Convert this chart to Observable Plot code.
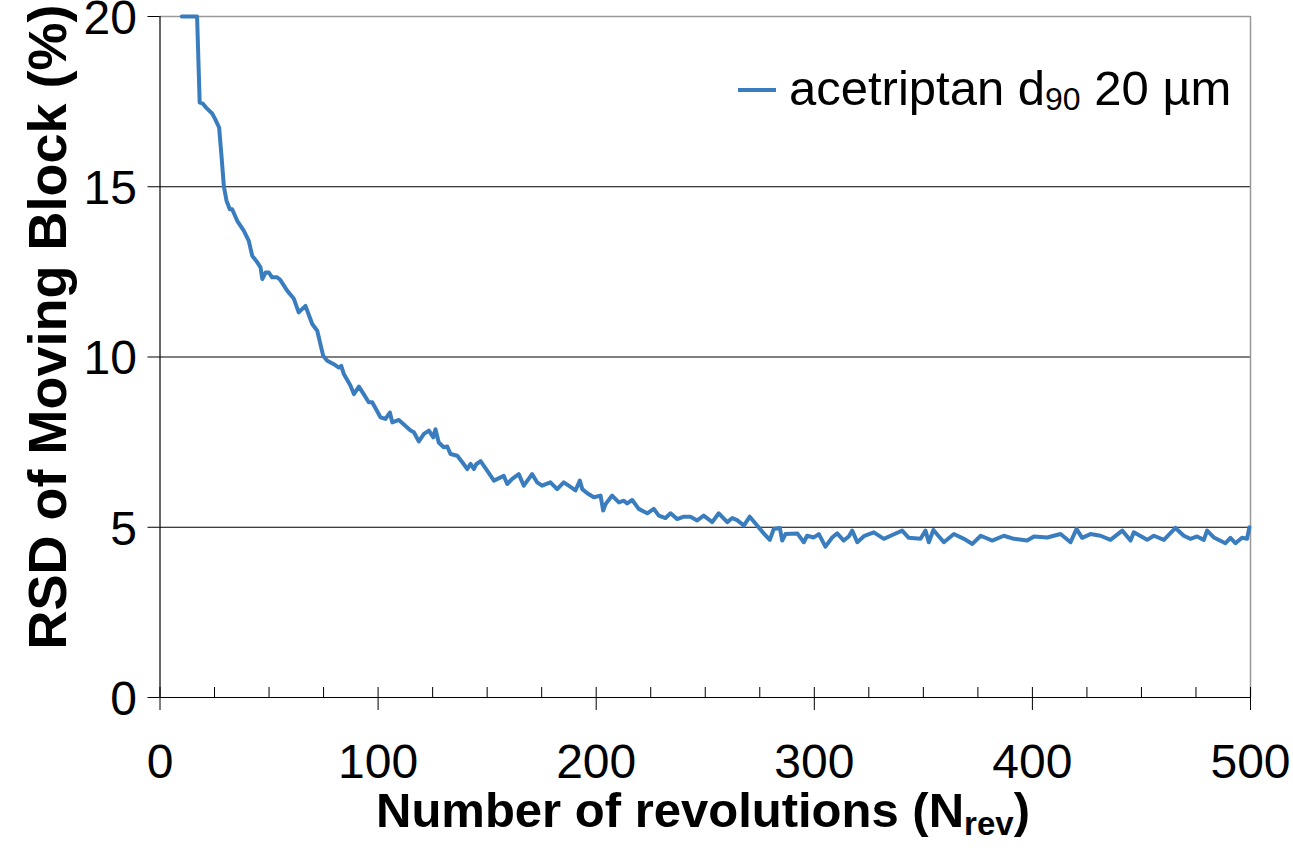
<!DOCTYPE html>
<html><head><meta charset="utf-8">
<script src="https://cdn.jsdelivr.net/npm/d3@7"></script>
<script src="https://cdn.jsdelivr.net/npm/@observablehq/plot@0.6"></script>
<style>
body{margin:0;background:#fff}
#chart{position:relative;width:1293px;height:861px}
</style>
</head><body><div id="chart"></div>
<script>
// Number of revolutions
const revs = [10, 17, 18.2, 19.5, 21.5, 23.9, 25.2, 27.1, 28.2, 29.3, 30.5, 32, 33.1, 35.4, 38.4, 40.7, 42.3, 44.6, 46.1, 46.9, 48.4, 49.9, 51.4, 53.7, 55.2, 58.3, 61.3, 63.6, 66.7, 69.8, 72.1, 74.8, 76.7, 79.7, 82, 83.1, 84.3, 87.3, 88.9, 91.2, 93.4, 95.7, 97.3, 101.1, 103.4, 105.4, 106.5, 109.5, 114.9, 116.4, 118.7, 121, 123.3, 125.3, 126.3, 127.8, 130.1, 131.7, 133.2, 136.3, 138.6, 140.9, 142.4, 143.9, 145, 147, 150, 153.1, 157.6, 159.2, 161.5, 164.5, 166.8, 170.6, 172.9, 175.2, 179, 182.1, 185.1, 187.4, 190.5, 192.5, 193.6, 195.9, 198.9, 202, 203.2, 204.3, 207.3, 210.4, 212.7, 214.2, 216.5, 219.5, 223.4, 226.4, 228.7, 231.8, 234.1, 237.1, 240.2, 243.2, 246.3, 249.3, 253.2, 256.2, 260.1, 262.4, 264.6, 267.7, 270.4, 273.8, 276.8, 279.6, 281.4, 284.2, 285.3, 286.8, 292.2, 295.2, 296.7, 299.8, 302.1, 305.1, 308.2, 310.5, 313.5, 315.8, 317.4, 319.7, 323, 327.3, 331.9, 336, 340.3, 343.3, 348.7, 351, 352.5, 354.6, 359.4, 364, 368.6, 372.5, 376.3, 381.6, 386.9, 391.5, 397.6, 400.7, 406.8, 412.9, 417.5, 420.2, 422.8, 426.6, 431.2, 435.8, 441.2, 445, 446.5, 452.6, 455.7, 460.3, 465.6, 469.4, 472.5, 475.5, 478.6, 480.1, 483.2, 488.5, 490.8, 493.1, 496.1, 498.4, 499.5];
// RSD of moving block (%)
const rsd = [20, 20, 17.47, 17.45, 17.3, 17.15, 17.0, 16.74, 15.9, 15.0, 14.59, 14.34, 14.34, 14.0, 13.71, 13.41, 12.97, 12.78, 12.63, 12.29, 12.48, 12.48, 12.34, 12.34, 12.26, 11.95, 11.72, 11.31, 11.5, 10.97, 10.77, 10.04, 9.89, 9.79, 9.69, 9.74, 9.5, 9.16, 8.91, 9.13, 8.91, 8.67, 8.67, 8.23, 8.18, 8.37, 8.08, 8.15, 7.84, 7.79, 7.52, 7.74, 7.84, 7.64, 7.88, 7.49, 7.35, 7.37, 7.15, 7.1, 6.91, 6.71, 6.86, 6.71, 6.85, 6.94, 6.66, 6.37, 6.51, 6.27, 6.42, 6.56, 6.22, 6.56, 6.32, 6.22, 6.32, 6.12, 6.32, 6.22, 6.08, 6.37, 6.12, 6.0, 5.88, 5.93, 5.49, 5.68, 5.93, 5.73, 5.78, 5.7, 5.8, 5.54, 5.41, 5.54, 5.34, 5.27, 5.41, 5.24, 5.31, 5.31, 5.2, 5.34, 5.15, 5.41, 5.15, 5.27, 5.21, 5.05, 5.31, 5.05, 4.82, 4.63, 4.95, 4.98, 4.61, 4.8, 4.82, 4.56, 4.75, 4.7, 4.8, 4.43, 4.7, 4.82, 4.61, 4.73, 4.9, 4.56, 4.75, 4.85, 4.66, 4.78, 4.9, 4.69, 4.66, 4.9, 4.56, 4.92, 4.56, 4.8, 4.66, 4.51, 4.75, 4.61, 4.75, 4.66, 4.61, 4.73, 4.7, 4.8, 4.56, 4.95, 4.69, 4.8, 4.75, 4.63, 4.9, 4.61, 4.85, 4.63, 4.75, 4.63, 4.98, 4.75, 4.66, 4.73, 4.63, 4.9, 4.7, 4.53, 4.69, 4.53, 4.69, 4.66, 5.0];

const xMajorTicks = [0, 100, 200, 300, 400, 500];
const xMinorTicks = [25, 50, 75, 125, 150, 175, 225, 250, 275, 325, 350, 375, 425, 450, 475];
const yTicks = [0, 5, 10, 15, 20];
const yGrid = [5, 10, 15];

const xTitle = "Number of revolutions (N";
const xTitleSub = "rev";
const yTitle = "RSD of Moving Block (%)";
const legendMain = "acetriptan d";
const legendSub = "90";
const legendRest = " 20 µm";

const data = revs.map((r, i) => ({rev: r, rsd: rsd[i]}));
const blue = "#3a7dbf";
const font = '"Liberation Sans", Arial, Helvetica, sans-serif';

const chart = Plot.plot({
  width: 1293, height: 861,
  marginLeft: 159.5, marginRight: 43, marginTop: 16, marginBottom: 164,
  style: {fontFamily: font, background: "#fff", color: "#000", overflow: "visible"},
  x: {domain: [0, 500]},
  y: {domain: [0, 20]},
  marks: [
    Plot.ruleY(yGrid, {stroke: "#000", strokeWidth: 1}),
    Plot.ruleY([20], {stroke: "#999", strokeWidth: 1.5}),
    Plot.ruleX([500], {stroke: "#999", strokeWidth: 1.5}),
    Plot.ruleX([0], {stroke: "#000", strokeWidth: 1.2}),
    Plot.ruleY([0], {stroke: "#000", strokeWidth: 1.2}),
    Plot.axisY({ticks: yTicks, tickSize: 12, fill: "none", label: null}),
    Plot.axisY({ticks: yTicks, tickSize: 0, tickPadding: 23, fontSize: 48, dy: 2, label: null, tickFormat: d => String(d)}),
    Plot.axisX({ticks: xMinorTicks, tickSize: 10, dy: -10, fill: "none", label: null}),
    Plot.axisX({ticks: xMajorTicks, tickSize: 23, dy: -10, fill: "none", label: null}),
    Plot.axisX({ticks: xMajorTicks, tickSize: 0, tickPadding: 46, fontSize: 48, label: null, tickFormat: d => String(d)}),
    Plot.line(data, {x: "rev", y: "rsd", stroke: blue, strokeWidth: 4, strokeLinejoin: "round"})
  ]
});

const svg = d3.select(chart);
// x axis title
const xt = svg.append("text")
  .attr("x", 703).attr("y", 827)
  .attr("text-anchor", "middle")
  .attr("font-family", font).attr("font-weight", "bold").attr("font-size", 49).attr("fill", "#000");
xt.append("tspan").text(xTitle);
xt.append("tspan").attr("font-size", 33).attr("dy", 8).text(xTitleSub);
xt.append("tspan").attr("dy", -8).text(")");

// y axis title
svg.append("text")
  .attr("transform", "translate(66,327) rotate(-90)")
  .attr("text-anchor", "middle")
  .attr("font-family", font).attr("font-weight", "bold").attr("font-size", 54).attr("fill", "#000")
  .text(yTitle);

// legend
svg.append("line")
  .attr("x1", 738).attr("x2", 776).attr("y1", 90).attr("y2", 90)
  .attr("stroke", blue).attr("stroke-width", 4);
const lt = svg.append("text")
  .attr("x", 789).attr("y", 105)
  .attr("text-anchor", "start")
  .attr("font-family", font).attr("font-size", 49).attr("fill", "#000");
lt.append("tspan").text(legendMain);
lt.append("tspan").attr("font-size", 32).attr("dy", 5).text(legendSub);
lt.append("tspan").attr("dy", -5).text(legendRest);

document.getElementById("chart").appendChild(chart);
</script>
</body></html>
